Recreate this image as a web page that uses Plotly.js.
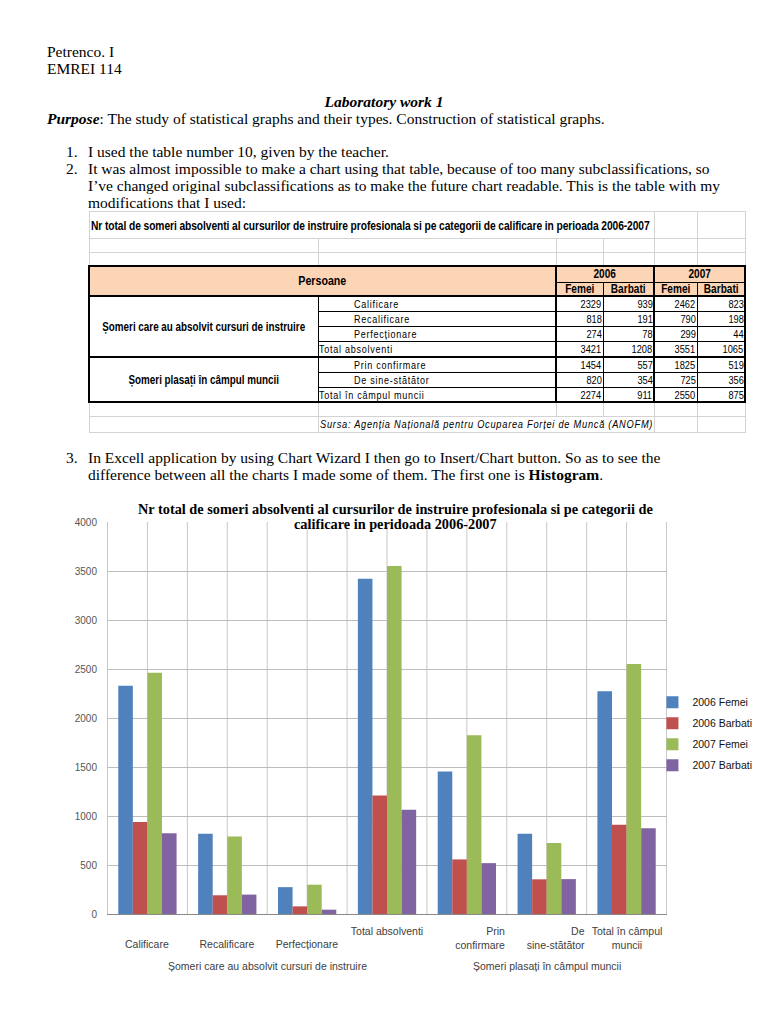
<!DOCTYPE html>
<html>
<head>
<meta charset="utf-8">
<script src="https://cdn.plot.ly/plotly-3.0.1.min.js"></script>
<style>
  html, body { margin:0; padding:0; background:#fff; }
  body { width:768px; height:1024px; position:relative; overflow:hidden; }
  .t { position:absolute; font-family:"Liberation Serif","Times New Roman",serif; font-size:15.5px; line-height:17px; color:#000; white-space:nowrap; }
  .ln { position:absolute; }
  .cell { position:absolute; font-family:"Liberation Sans",Arial,sans-serif; font-size:11.3px; color:#000; white-space:nowrap; line-height:14px; }
  .cell span { display:inline-block; }
  #chart { position:absolute; left:60px; top:490px; width:708px; height:500px; }
</style>
</head>
<body>
<div id="doc"></div>
<div id="chart"></div>
<script>
// ---------------- DATA ----------------
const tableTitle = "Nr total de someri absolventi al cursurilor de instruire profesionala si pe categorii de calificare in perioada 2006-2007";
const chartTitleLines = ["Nr total de someri absolventi al cursurilor de instruire profesionala si pe categorii de", "calificare in peridoada 2006-2007"];
const headerLabel = "Persoane";
const years = ["2006", "2007"];
const sexes = ["Femei", "Barbati"];
const groups = ["Șomeri care au absolvit cursuri de instruire", "Șomeri plasați în câmpul muncii"];
const groupSizes = [4, 3];
const rowLabels = ["Calificare", "Recalificare", "Perfecționare", "Total absolventi", "Prin confirmare", "De sine-stătător", "Total în câmpul muncii"];
const chartLabels = ["Calificare", "Recalificare", "Perfecționare", "Total absolventi", "Prin<br>confirmare", "De<br>sine-stătător", "Total în câmpul<br>muncii"];
const femei2006   = [2329, 818, 274, 3421, 1454, 820, 2274];
const barbati2006 = [939, 191, 78, 1208, 557, 354, 911];
const femei2007   = [2462, 790, 299, 3551, 1825, 725, 2550];
const barbati2007 = [823, 198, 44, 1065, 519, 356, 875];
const seriesNames = ["2006 Femei", "2006 Barbati", "2007 Femei", "2007 Barbati"];
const sourceText = "Sursa: Agenția Națională pentru Ocuparea Forței de Muncă (ANOFM)";
const yTicks = [0, 500, 1000, 1500, 2000, 2500, 3000, 3500, 4000];

// ---------------- DOCUMENT TEXT ----------------
const doc = document.getElementById('doc');
function text(html, x, cy, extra) {
  const d = document.createElement('div');
  d.className = 't';
  d.innerHTML = html;
  d.style.left = x + 'px';
  d.style.top = (cy - 9.2) + 'px';
  if (extra) Object.assign(d.style, extra);
  doc.appendChild(d);
  return d;
}
text("Petrenco. I", 47, 52);
text("EMREI 114", 47, 69);
text("<b><i>Laboratory work 1</i></b>", 0, 102, {width:'768px', textAlign:'center'});
text("<b><i>Purpose</i></b>: The study of statistical graphs and their types. Construction of statistical graphs.", 47, 119);
text("1.", 66, 152);
text("I used the table number 10, given by the teacher.", 88, 152);
text("2.", 66, 169);
text("It was almost impossible to make a chart using that table, because of too many subclassifications, so", 88, 169);
text("I’ve changed original subclassifications as to make the future chart readable. This is the table with my", 88, 186);
text("modifications that I used:", 88, 203);
text("3.", 66, 458);
text("In Excell application by using Chart Wizard I then go to Insert/Chart button. So as to see the", 88, 458);
text("difference between all the charts I made some of them. The first one is <b>Histogram</b>.", 88, 475);

// ---------------- TABLE ----------------
function line(x1, y1, x2, y2, w, color) {
  const d = document.createElement('div');
  d.className = 'ln';
  if (y1 === y2) {
    d.style.left = (x1 - w/2) + 'px'; d.style.top = (y1 - w/2) + 'px';
    d.style.width = (x2 - x1 + w) + 'px'; d.style.height = w + 'px';
  } else {
    d.style.left = (x1 - w/2) + 'px'; d.style.top = (y1 - w/2) + 'px';
    d.style.width = w + 'px'; d.style.height = (y2 - y1 + w) + 'px';
  }
  d.style.background = color;
  doc.appendChild(d);
}
function rect(x1, y1, x2, y2, color) {
  const d = document.createElement('div');
  d.className = 'ln';
  Object.assign(d.style, {left:x1+'px', top:y1+'px', width:(x2-x1)+'px', height:(y2-y1)+'px', background:color});
  doc.appendChild(d);
}
const NARROW = 0.82;
function cell(html, x1, x2, cy, align, style) {
  const d = document.createElement('div');
  d.className = 'cell';
  let L = x1, R = x2;
  if (align === 'center') { L = x1 - 300; R = x2 + 300; }
  if (align === 'right') { L = x1 - 300; }
  d.style.left = L + 'px';
  d.style.width = (R - L) + 'px';
  d.style.top = (cy - 7) + 'px';
  d.style.textAlign = align;
  const s = document.createElement('span');
  s.innerHTML = html;
  s.style.transform = 'scaleX(' + NARROW + ')';
  s.style.transformOrigin = align === 'left' ? 'left center' : (align === 'right' ? 'right center' : 'center center');
  if (style) Object.assign(s.style, style);
  d.appendChild(s);
  doc.appendChild(d);
}
const CX = [89, 318, 556, 603, 654, 697, 745];
const RY = [296, 311, 326, 341, 357, 372, 387, 402];
const G = '#d3d3d3';
// light spreadsheet grid
[211, 238, 252, 266, 402, 416, 432].forEach(y => line(CX[0], y, CX[6], y, 1, G));
[89, 654, 697, 745].forEach(x => line(x, 211, x, 238, 1, G));
CX.forEach(x => line(x, 238, x, 266, 1, G));
CX.forEach(x => line(x, 402, x, 416, 1, G));
[89, 318, 654, 697, 745].forEach(x => line(x, 416, x, 432, 1, G));
cell(tableTitle, 91, 700, 226, 'left', {fontWeight:'bold', fontSize:'12.5px', letterSpacing:'-0.1px'});
cell(sourceText, 320, 700, 424, 'left', {fontStyle:'italic', letterSpacing:'0.9px'});

// header
rect(CX[0], 266, CX[6], 296, '#fbd5b5');
const HB = {fontWeight:'bold', fontSize:'12.3px'};
cell(headerLabel, CX[0], CX[2], 281, 'center', {fontWeight:'bold', fontSize:'13px'});
years.forEach((yr, i) => cell(yr, CX[2 + 2*i], CX[4 + 2*i], 274, 'center', HB));
years.forEach((yr, i) => sexes.forEach((s, j) => cell(s, CX[2 + 2*i + j], CX[3 + 2*i + j], 289, 'center', HB)));

// data rows
const cols = [femei2006, barbati2006, femei2007, barbati2007];
rowLabels.forEach((lbl, r) => {
  const cy = (RY[r] + RY[r+1]) / 2;
  const isTotal = lbl.indexOf('Total') === 0;
  cell(lbl, isTotal ? CX[1] + 1 : CX[1] + 36, CX[2] + 40, cy, 'left', {letterSpacing:'0.9px', fontSize:'11px'});
  cols.forEach((arr, c) => cell(String(arr[r]), CX[2 + c], CX[3 + c] - 1.5, cy, 'right'));
});
let start = 0;
groups.forEach((g, gi) => {
  const end = start + groupSizes[gi];
  cell(g, CX[0], CX[1], (RY[start] + RY[end]) / 2, 'center', {fontWeight:'bold', fontSize:'12px'});
  start = end;
});

// black borders
const B = '#000';
for (let r = 1; r < RY.length - 1; r++) line(CX[1], RY[r], CX[6], RY[r], 1, B);
line(CX[2], 282, CX[6], 282, 1, B);
[CX[3], CX[5]].forEach(x => line(x, 282, x, 402, 1, B));
line(CX[1], 296, CX[1], 402, 1, B);
[CX[2], CX[4]].forEach(x => line(x, 266, x, 402, 2, B));
line(CX[0], 296, CX[6], 296, 2, B);
line(CX[0], 357, CX[6], 357, 2, B);
line(CX[0], 266, CX[6], 266, 2, B);
line(CX[0], 402, CX[6], 402, 2.5, B);
line(CX[0], 266, CX[0], 402, 2, B);
line(CX[6], 266, CX[6], 402, 2, B);

// ---------------- CHART ----------------
const colors = ['#4f81bd', '#c0504d', '#9bbb59', '#8064a2'];
const cats = rowLabels;
const traces = cols.map((arr, i) => ({
  type: 'bar', x: cats, y: arr, name: seriesNames[i],
  marker: {color: colors[i], line: {width: 0}},
  legendgroup: 'g' + i
}));

const shapes = [];
const nCat = cats.length;
for (let k = 0; k <= nCat * 2; k++) {
  shapes.push({type:'line', xref:'x', yref:'paper', x0:-0.5 + 0.5*k, x1:-0.5 + 0.5*k, y0:0, y1:1,
    line:{color:'#c8c8c8', width:1}, layer:'below'});
}
// dividers under the axis
const groupBounds = [0];
groupSizes.forEach(s => groupBounds.push(groupBounds[groupBounds.length - 1] + s));
for (let b = 0; b <= nCat; b++) {
  const full = groupBounds.indexOf(b) >= 0;
  shapes.push({type:'line', xref:'x', yref:'y', ysizemode:'pixel', yanchor:0,
    x0:b - 0.5, x1:b - 0.5, y0:0, y1: full ? -56 : -36, line:{color:'#8a8a8a', width:1}});
}
// chart outer bottom border
shapes.push({type:'line', xref:'paper', yref:'y', ysizemode:'pixel', yanchor:0,
  x0:-0.066, x1:1.166, y0:-56, y1:-56, line:{color:'#d9d9d9', width:1.5}});

const labelFont = {family:'Liberation Sans, Arial, sans-serif', size:10.5, color:'#404040'};
const labelShift = [-22, -22, -22, -9, -9, -9, -9];
const labelAlign = ['center', 'center', 'center', 'center', 'right', 'right', 'center'];
const annotations = chartLabels.map((lbl, i) => ({
  xref:'x', yref:'y', x:cats[i], y:0, yanchor:'top', xanchor:'center', yshift:labelShift[i],
  text:lbl, showarrow:false, font:labelFont, align:labelAlign[i], width:76
}));
groups.forEach((g, gi) => {
  const c = (groupBounds[gi] + groupBounds[gi + 1]) / 2;
  annotations.push({xref:'paper', yref:'y', x:c / nCat, y:0, xanchor:'center', yanchor:'top', yshift:-44,
    text:g, showarrow:false, font:labelFont});
});
const titleShift = [13, -2];
chartTitleLines.forEach((t, i) => annotations.push({xref:'paper', yref:'paper', x:0.516, y:1, xanchor:'center', yanchor:'middle',
  yshift:titleShift[i], text:'<b>' + t + '</b>', showarrow:false,
  font:{family:'Liberation Serif, Times New Roman, serif', size:14.3, color:'#000'}}));

const layout = {
  width:708, height:500,
  margin:{l:47, r:101, t:32, b:76, pad:0, autoexpand:false},
  paper_bgcolor:'rgba(0,0,0,0)', plot_bgcolor:'rgba(0,0,0,0)',
  barmode:'group', bargap:0.27, bargroupgap:0,
  showlegend:true,
  legend:{x:0.974, xanchor:'left', y:0.46, yanchor:'middle', bgcolor:'rgba(0,0,0,0)',
    font:{family:'Liberation Sans, Arial, sans-serif', size:10.5, color:'#111'}, tracegroupgap:2},
  xaxis:{type:'category', showticklabels:false, showgrid:false, zeroline:false,
    showline:true, linecolor:'#8a8a8a', linewidth:1, ticks:''},
  yaxis:{range:[0, 4000], tickvals:yTicks, ticktext:yTicks.map(String), showgrid:true, gridcolor:'#bdbdbd', gridwidth:1,
    zeroline:false, showline:false, ticks:'', ticklabelstandoff:9,
    tickfont:{family:'Liberation Sans, Arial, sans-serif', size:10, color:'#555'}},
  shapes:shapes, annotations:annotations
};
Plotly.newPlot('chart', traces, layout, {staticPlot:true, displayModeBar:false});
</script>
</body>
</html>
